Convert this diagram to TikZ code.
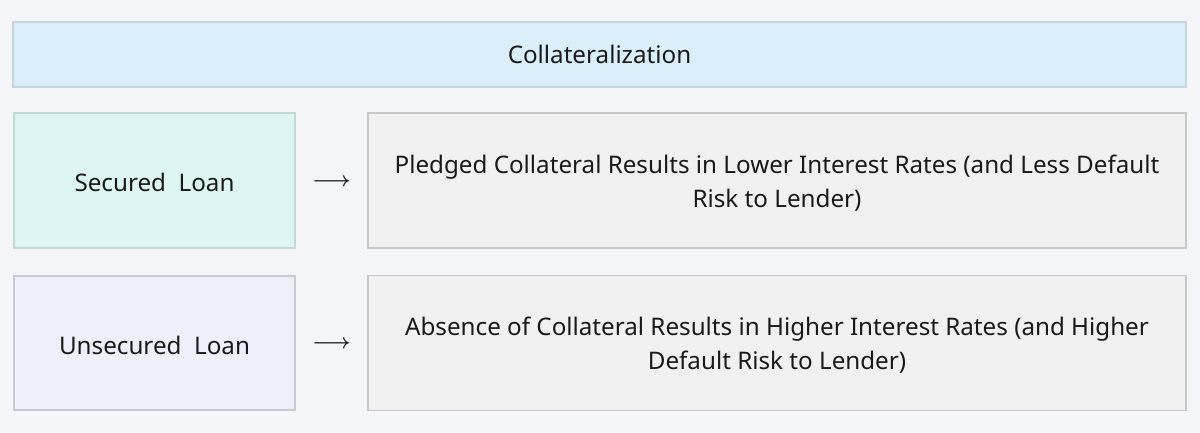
\documentclass[tikz,border=0pt]{standalone}
\usepackage{fontspec}
\setmainfont{Noto Sans}
\definecolor{bgc}{HTML}{F4F6F9}
\definecolor{topfill}{HTML}{DAEFF9}
\definecolor{topdraw}{HTML}{C4D6E0}
\definecolor{secfill}{HTML}{DDF6F3}
\definecolor{secdraw}{HTML}{C4D8D6}
\definecolor{unsfill}{HTML}{EFEFFA}
\definecolor{unsdraw}{HTML}{C9CAD6}
\definecolor{resfill}{HTML}{F1F1F1}
\definecolor{resdraw}{HTML}{C8C8C8}
\definecolor{txt}{HTML}{1A1A1A}
\newcommand{\lowertext}[2]{\raisebox{-#1}[\height][\depth]{#2}}
\tikzset{
  box/.style={rectangle, line width=1.3pt, inner sep=0pt, text=txt,
    font=\fontsize{24.2}{34}\selectfont},
  headbox/.style={box, fill=topfill, draw=topdraw, minimum width=1173pt, minimum height=65pt},
  secbox/.style={box, fill=secfill, draw=secdraw, minimum width=281pt, minimum height=135pt},
  unsbox/.style={box, fill=unsfill, draw=unsdraw, minimum width=281pt, minimum height=134pt},
  resbox/.style={box, fill=resfill, draw=resdraw, minimum width=818pt, minimum height=135pt},
  arrowsym/.style={inner sep=0pt, text=txt, font=\fontsize{22}{22}\selectfont\boldmath}
}
\begin{document}
\begin{tikzpicture}[x=1pt,y=-1pt]
\fill[bgc] (0,0) rectangle (1200,433);
\useasboundingbox (0,0) rectangle (1200,433);
\node[headbox] (head) at (599.5,54.5) {Collateralization};
\node[secbox] (sec) at (154.5,180.5) {\lowertext{2pt}{Secured\ \ Loan}};
\node[resbox] (secres) at (777,180.5) {\lowertext{3pt}{\begin{tabular}{@{}c@{}}Pledged Collateral Results in Lower Interest Rates (and Less Default\\Risk to Lender)\end{tabular}}};
\node[arrowsym] (arr1) at (331.5,182) {$\longrightarrow$};
\node[unsbox] (uns) at (154.5,343) {\lowertext{2pt}{Unsecured\ \ Loan}};
\node[resbox] (unsres) at (777,343) {\lowertext{3pt}{\begin{tabular}{@{}c@{}}Absence of Collateral Results in Higher Interest Rates (and Higher\\Default Risk to Lender)\end{tabular}}};
\node[arrowsym] (arr2) at (331.5,344) {$\longrightarrow$};
\end{tikzpicture}
\end{document}
